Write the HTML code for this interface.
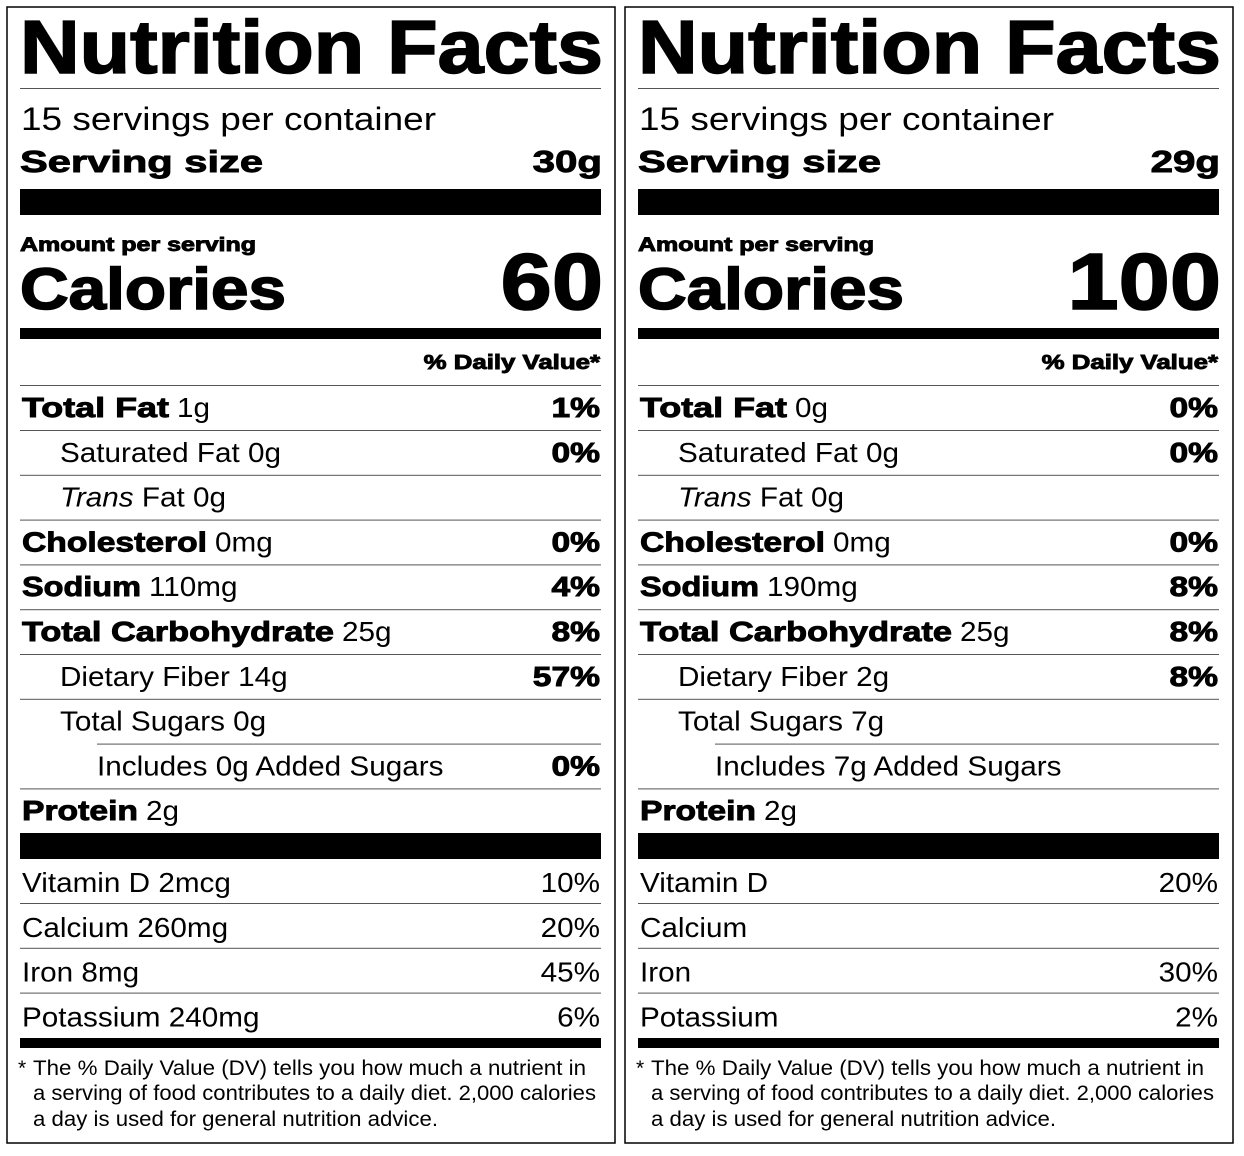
<!DOCTYPE html>
<html><head><meta charset="utf-8"><style>
html,body{margin:0;padding:0;background:#fff;}
svg{display:block;font-family:"Liberation Sans",Arial,sans-serif;}
.hv{font-weight:bold;stroke:#000;stroke-width:0.9px;}
.hv2{font-weight:bold;stroke:#000;stroke-width:1.6px;}
</style></head><body>
<svg id="s" width="1244" height="1156" viewBox="0 0 1244 1156" xmlns="http://www.w3.org/2000/svg"></svg>
<script>
const servingSizes = ["30g", "29g"];
const calories = ["60", "100"];
const rowLabels = ["Total Fat","Saturated Fat","Trans Fat","Cholesterol","Sodium","Total Carbohydrate","Dietary Fiber","Total Sugars","Includes","Protein"];
const amountsA = ["1g","0g","0g","0mg","110mg","25g","14g","0g","0g","2g"];
const amountsB = ["0g","0g","0g","0mg","190mg","25g","2g","7g","7g","2g"];
const dvA = ["1%","0%","","0%","4%","8%","57%","","0%",""];
const dvB = ["0%","0%","","0%","8%","8%","8%","","",""];
const vitLabels = ["Vitamin D","Calcium","Iron","Potassium"];
const vitAmountsA = ["2mcg","260mg","8mg","240mg"];
const vitAmountsB = ["","","",""];
const vitDvA = ["10%","20%","45%","6%"];
const vitDvB = ["20%","","30%","2%"];

const NS="http://www.w3.org/2000/svg";
const svg=document.getElementById('s');
function mk(tag,attrs,parent){const e=document.createElementNS(NS,tag);for(const k in attrs)e.setAttribute(k,attrs[k]);(parent||svg).appendChild(e);return e;}
function txt(g,x,y,size,str,cls,anchor,sx){
  const t=mk('text',{x:0,y:0,'font-size':size,'text-anchor':anchor||'start',transform:'translate('+x+','+y+') scale('+(sx||1)+',1)'},g);
  if(cls)t.setAttribute('class',cls);t.textContent=str;return t;}
function fit(g,x,y,size,str,cls,w){
  const t=mk('text',{x:x,y:y,'font-size':size,textLength:w,lengthAdjust:'spacingAndGlyphs'},g);
  if(cls)t.setAttribute('class',cls);t.textContent=str;return t;}

const boldW={0:147,3:185,4:119,5:312,9:116};
const indent=[22,60,60,22,22,22,60,60,97,22];
const RS=1.06;
function panel(ox,idx){
  const g=mk('g',{transform:'translate('+ox+',0)'});
  
  
  mk('rect',{x:7,y:7,width:608,height:1136,fill:'none',stroke:'#000','stroke-width':1.5},g);
  const t=fit(g,20,73,75,'Nutrition Facts','hv2',583);
  
  
  mk('rect',{x:20,y:88,width:581,height:1,fill:'#555'},g);
  fit(g,21,130,32,'15 servings per container',null,415);
  const ss=fit(g,20,172,31,'Serving size','hv',243);
  
  
  txt(g,602,172,31,servingSizes[idx],'hv','end',1.3);
  mk('rect',{x:20,y:189,width:581,height:26,fill:'#000'},g);
  fit(g,20,251,19,'Amount per serving','hv',236);
  const cl=fit(g,20,309,58,'Calories','hv2',266);
  
  
  const cv=txt(g,603,309,80,calories[idx],'hv2','end',1.15);
  
  
  mk('rect',{x:20,y:328,width:581,height:11,fill:'#000'},g);
  txt(g,600,369,20,'% Daily Value*','hv','end',1.29);
  mk('rect',{x:20,y:385,width:581,height:1,fill:'#555'},g);
  const amts=idx?amountsB:amountsA, dvs=idx?dvB:dvA;
  for(let i=0;i<rowLabels.length;i++){
    const yb=430+i*44.8, by=yb-13;
    const r=mk('g',{},g);
    
    
    if(i===2){
      const t=mk('text',{x:0,y:0,'font-size':28,transform:'translate('+indent[i]+','+by+') scale('+RS+',1)'},r);
      const a=mk('tspan',{'font-style':'italic'},t);a.textContent='Trans';const b=mk('tspan',{},t);b.textContent=' Fat '+amts[i];
    } else if(i===8){
      txt(r,indent[i],by,28,'Includes '+amts[i]+' Added Sugars',null,'start',RS);
    } else if(boldW[i]){
      fit(r,22,by,28,rowLabels[i],'hv',boldW[i]);
      txt(r,22+boldW[i]+8,by,28,amts[i],null,'start',RS);
    } else {
      txt(r,indent[i],by,28,rowLabels[i]+' '+amts[i],null,'start',RS);
    }
    if(dvs[i])txt(r,600,by,28,dvs[i],'hv','end',1.2);
    if(i<9) mk('rect',{x:(i===7?97:20),y:yb,width:(i===7?504:581),height:1,fill:'#555'},g);
  }
  mk('rect',{x:20,y:833,width:581,height:26,fill:'#000'},g);
  const va=idx?vitAmountsB:vitAmountsA, vd=idx?vitDvB:vitDvA;
  for(let i=0;i<vitLabels.length;i++){
    const yb=903+i*44.8;
    const r=mk('g',{},g);
    
    
    txt(r,22,yb-11,28,vitLabels[i]+(va[i]?' '+va[i]:''),null,'start',RS);
    if(vd[i])txt(r,600,yb-11,28,vd[i],null,'end',RS);
    if(i<3) mk('rect',{x:20,y:yb,width:581,height:1,fill:'#555'},g);
  }
  mk('rect',{x:20,y:1038,width:581,height:10,fill:'#000'},g);
  const f=mk('g',{},g);
  
  
  txt(f,18,1075,21,'*');
  fit(f,33,1075,21,'The % Daily Value (DV) tells you how much a nutrient in',null,553);
  fit(f,33,1100,21,'a serving of food contributes to a daily diet. 2,000 calories',null,563);
  fit(f,33,1126,21,'a day is used for general nutrition advice.',null,405);
}
panel(0,0);
panel(618,1);
</script>
</body></html>
